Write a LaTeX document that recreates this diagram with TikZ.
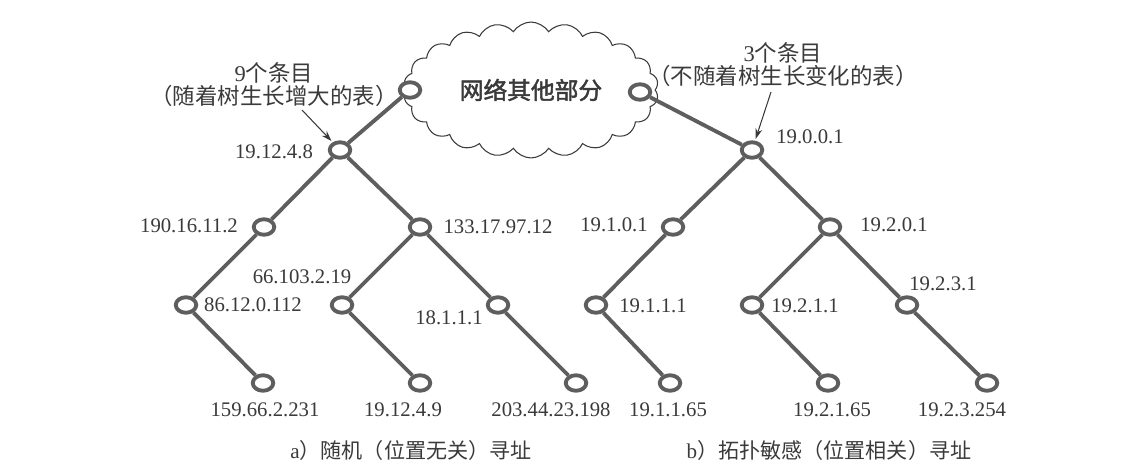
\documentclass[tikz,border=0pt]{standalone}
\usepackage{fontspec}
\setmainfont{Liberation Serif}
\newfontfamily\cjk[AutoFakeBold=2]{Noto Sans CJK SC}
\usepackage{tikz}
\usetikzlibrary{arrows.meta,positioning,shapes.geometric,shapes.symbols}
\definecolor{LinkGray}{HTML}{5E5E5E}
\definecolor{LabelGray}{HTML}{3A3A3A}

\begin{document}
\begin{tikzpicture}[x=0.02cm,y=-0.02cm,
  hop/.style={ellipse,draw=LinkGray,line width=2.2pt,fill=white,minimum width=0.41cm,minimum height=0.31cm,inner sep=0pt},
  link/.style={LinkGray,line width=2.2pt},
  pointer/.style={LabelGray,line width=0.6pt,-{Stealth[length=6pt,width=4pt]},shorten >=1pt},
  addr/.style={text=LabelGray,font=\fontsize{11.8}{13}\selectfont,inner sep=0pt},
  note/.style={text=LabelGray,font=\fontsize{12.8}{13}\selectfont,align=center,inner sep=0pt}]
  \useasboundingbox (0,0) rectangle (1146,476);

  % rest of the network
  \node[cloud,cloud puffs=22,cloud puff arc=115,aspect=1.75,cloud ignores aspect=false,
        draw=LabelGray,line width=0.6pt,minimum width=5.1cm,minimum height=2.7cm,
        inner sep=2pt,text=LabelGray,
        font=\fontsize{13.5}{15}\selectfont\cjk\bfseries] (net) at (531,90) {网络其他部分};

  % a) random addressing
  \node[hop] (gwA) at (410,90) {};
  \node[hop] (a0) at (340,150) {};
  \node[hop] (a1) at (264,227) {};
  \node[hop] (a2) at (420,227) {};
  \node[hop] (a11) at (186,305) {};
  \node[hop] (a21) at (342,305) {};
  \node[hop] (a22) at (498,305) {};
  \node[hop] (a111) at (263,383) {};
  \node[hop] (a211) at (420,383) {};
  \node[hop] (a221) at (576,383) {};

  % b) topology sensitive addressing
  \node[hop] (gwB) at (640,92) {};
  \node[hop] (b0) at (752,150) {};
  \node[hop] (b1) at (673,227) {};
  \node[hop] (b2) at (830,227) {};
  \node[hop] (b11) at (596,305) {};
  \node[hop] (b21) at (752,305) {};
  \node[hop] (b22) at (907,305) {};
  \node[hop] (b111) at (670,383) {};
  \node[hop] (b211) at (828,383) {};
  \node[hop] (b221) at (987,383) {};

  \foreach \p/\c in {gwA/a0,a0/a1,a0/a2,a1/a11,a2/a21,a2/a22,a11/a111,a21/a211,a22/a221,
                     gwB/b0,b0/b1,b0/b2,b1/b11,b2/b21,b2/b22,b11/b111,b21/b211,b22/b221} {
    \draw[link] (\p) -- (\c);
  }

  % addresses
  \node[addr] (la0) at (274,152) {19.12.4.8};
  \node[addr] (la1) at (189,226) {190.16.11.2};
  \node[addr] (la2) at (498,227) {133.17.97.12};
  \node[addr] (la11) at (253,305) {86.12.0.112};
  \node[addr] (la21) at (302,277) {66.103.2.19};
  \node[addr] (la22) at (449,318) {18.1.1.1};
  \node[addr] (la111) at (265,410) {159.66.2.231};
  \node[addr] (la211) at (403,410) {19.12.4.9};
  \node[addr] (la221) at (551,410) {203.44.23.198};
  \node[addr] (lb0) at (810,137) {19.0.0.1};
  \node[addr] (lb1) at (614,225) {19.1.0.1};
  \node[addr] (lb2) at (894,225) {19.2.0.1};
  \node[addr] (lb11) at (653,306) {19.1.1.1};
  \node[addr] (lb21) at (805,306) {19.2.1.1};
  \node[addr] (lb22) at (943,284) {19.2.3.1};
  \node[addr] (lb111) at (668,410) {19.1.1.65};
  \node[addr] (lb211) at (832,410) {19.2.1.65};
  \node[addr] (lb221) at (962,410) {19.2.3.254};

  % routing table notes
  \node[note] (tabA) at (274,85) {9{\cjk 个条目}\\{\cjk （随着树生长增大的表）}};
  \coordinate (fromA) at (302,110);
  \draw[pointer] (fromA) -- (a0);
  \node[note] (tabB) at (783,65) {3{\cjk 个条目}\\{\cjk （不随着树生长变化的表）}};
  \coordinate (fromB) at (771,92);
  \draw[pointer] (fromB) -- (b0);

  \node[note,font=\fontsize{12}{14}\selectfont] (capA) at (411,450) {a{\cjk ）随机（位置无关）寻址}};
  \node[note,font=\fontsize{12}{14}\selectfont] (capB) at (829,450) {b{\cjk ）拓扑敏感（位置相关）寻址}};
\end{tikzpicture}
\end{document}
